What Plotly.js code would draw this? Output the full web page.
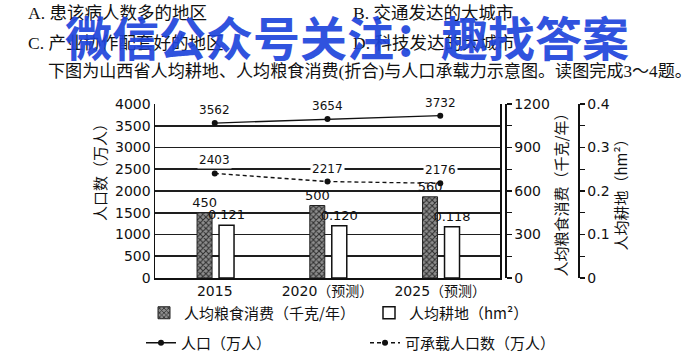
<!DOCTYPE html>
<html><head><meta charset="utf-8">
<script src="https://cdn.plot.ly/plotly-3.0.1.min.js"></script>
<style>html,body{margin:0;padding:0;background:#fff}</style>
</head><body><div id="chart" style="width:700px;height:364px"></div>
<script>
// ---- data ----
const categories = ['2015', '2020（预测）', '2025（预测）'];
const grainConsumption = [450, 500, 560];      // 人均粮食消费（千克/年）
const arableLand = [0.121, 0.120, 0.118];      // 人均耕地（hm²）
const population = [3562, 3654, 3732];         // 人口（万人）
const carryingCapacity = [2403, 2217, 2176];   // 可承载人口数（万人）
const leftTickVals = [0, 500, 1000, 1500, 2000, 2500, 3000, 3500, 4000];
const grainTickVals = [0, 300, 600, 900, 1200];
const landTickVals = [0, 0.1, 0.2, 0.3, 0.4];
const seriesNames = ['人均粮食消费（千克/年）', '人均耕地（hm²）', '人口（万人）', '可承载人口数（万人）'];
const leftAxisTitle = '人口数（万人）';
const questionLines = ['A. 患该病人数多的地区', 'B. 交通发达的大城市', 'C. 产业协作配套好的地区', 'D. 科技发达的大城市',
  '下图为山西省人均耕地、人均粮食消费(折合)与人口承载力示意图。读图完成3～4题。'];
const watermark = '微信公众号关注：趣找答案';

const FONT = 'DejaVu Sans, Noto Sans CJK SC, sans-serif';
const CJK = 'Noto Sans CJK SC, DejaVu Sans, sans-serif';
const SERIF = 'Liberation Serif, Noto Sans CJK SC, serif';

// paper coordinate helpers (plot: l=155, paper width 445; t=104, plot height 174)
const L = 155, PW = 445, B0 = 278, PH = 174;
const px = v => (v - L) / PW;
const py = v => (B0 - v) / PH;

const traces = [
  {
    type: 'bar', name: seriesNames[0], x: categories, y: grainConsumption, yaxis: 'y2',
    offset: -0.157, width: 0.133,
    marker: { color: '#6a6a6a', pattern: { shape: 'x', fgcolor: '#2e2e2e', bgcolor: '#8e8e8e', size: 4, solidity: 0.45 },
      line: { color: '#222', width: 1 } },
    text: grainConsumption.map(String), textposition: 'outside', cliponaxis: false, constraintext: 'none',
    textfont: { family: FONT, size: 13, color: '#111' }, legend: 'legend'
  },
  {
    type: 'bar', name: seriesNames[1], x: categories, y: arableLand, yaxis: 'y3',
    offset: 0.038, width: 0.133,
    marker: { color: '#ffffff', line: { color: '#111', width: 1.5 } },
    text: arableLand.map(v => v.toFixed(3)), textposition: 'outside', cliponaxis: false, constraintext: 'none',
    textfont: { family: FONT, size: 13, color: '#111' }, legend: 'legend'
  },
  {
    type: 'scatter', mode: 'lines+markers', name: seriesNames[2], x: categories, y: population, yaxis: 'y',
    line: { color: '#111', width: 1.3 }, marker: { color: '#111', size: 6 }, cliponaxis: false, legend: 'legend2'
  },
  {
    type: 'scatter', mode: 'lines+markers', name: seriesNames[3], x: categories, y: carryingCapacity, yaxis: 'y',
    line: { color: '#111', width: 1.3, dash: '4px,3px' }, marker: { color: '#111', size: 6 }, cliponaxis: false, legend: 'legend2'
  }
];

const annotations = [];
population.forEach((v, i) => annotations.push({
  x: i, y: v, xref: 'x', yref: 'y', text: String(v), showarrow: false, yshift: 13,
  bgcolor: '#fff', font: { family: FONT, size: 12, color: '#111' }
}));
carryingCapacity.forEach((v, i) => annotations.push({
  x: i, y: v, xref: 'x', yref: 'y', text: String(v), showarrow: false, yshift: 13,
  bgcolor: '#fff', font: { family: FONT, size: 12, color: '#111' }
}));
// left axis title (placed like the reference, above the axis centre)
annotations.push({
  x: px(99), y: py(169), xref: 'paper', yref: 'paper', xanchor: 'center', yanchor: 'middle',
  text: leftAxisTitle, textangle: -90, showarrow: false, font: { family: CJK, size: 15, color: '#111' }
});
// question text above the chart
const qPos = [[26, 13], [351, 13], [26, 43], [351, 43], [46, 71]];
questionLines.forEach((t, i) => annotations.push({
  x: px(qPos[i][0]), y: py(qPos[i][1]), xref: 'paper', yref: 'paper', xanchor: 'left', yanchor: 'middle',
  text: t, showarrow: false, font: { family: SERIF, size: i === 4 ? 17.1 : 17.5, color: '#111' }
}));
annotations.push({
  x: px(63), y: py(35), xref: 'paper', yref: 'paper', xanchor: 'left', yanchor: 'middle',
  text: '<b>' + watermark + '</b>', showarrow: false, opacity: 0.92,
  font: { family: CJK, size: 47, color: '#1f45dc' }
});

const axisTitleFont = { family: CJK, size: 15, color: '#111' };
const tickFont = { family: FONT, size: 14, color: '#111' };

const layout = {
  width: 700, height: 364,
  margin: { l: L, r: 700 - L - PW, t: 104, b: 364 - B0, autoexpand: false },
  paper_bgcolor: '#fff', plot_bgcolor: '#fff',
  showlegend: true,
  xaxis: {
    type: 'category', domain: [0, 345 / PW], range: [-0.53, 2.53],
    showline: true, linecolor: '#111', linewidth: 1.5, ticks: '', showgrid: false,
    tickfont: { family: FONT, size: 14, color: '#111' }
  },
  yaxis: {
    range: [0, 4000], tickvals: leftTickVals, showgrid: true, gridcolor: '#1e1e1e', gridwidth: 1.6,
    showline: true, linecolor: '#111', linewidth: 1.5, mirror: true, ticks: '', zeroline: false,
    tickfont: tickFont
  },
  yaxis2: {
    overlaying: 'y', side: 'right', anchor: 'free', position: px(505),
    range: [0, 1200], tickvals: grainTickVals, showgrid: false, zeroline: false,
    showline: true, linecolor: '#111', linewidth: 1.5, ticks: 'outside', ticklen: 5, tickwidth: 1.3, tickcolor: '#111',
    minor: { dtick: 150, ticks: 'outside', ticklen: 5, tickwidth: 1.3, tickcolor: '#111' },
    tickfont: tickFont, title: { text: '人均粮食消费（千克/年）', font: axisTitleFont, standoff: 6 }
  },
  yaxis3: {
    overlaying: 'y', side: 'right', anchor: 'free', position: px(578),
    range: [0, 0.4], tickvals: landTickVals, showgrid: false, zeroline: false,
    showline: true, linecolor: '#111', linewidth: 1.5, ticks: 'outside', ticklen: 5, tickwidth: 1.3, tickcolor: '#111',
    minor: { dtick: 0.05, ticks: 'outside', ticklen: 5, tickwidth: 1.3, tickcolor: '#111' },
    tickfont: tickFont, title: { text: '人均耕地（hm²）', font: axisTitleFont, standoff: 6 }
  },
  legend: {
    orientation: 'h', x: px(144), xanchor: 'left', y: py(313), yanchor: 'middle',
    entrywidth: 180, font: { family: CJK, size: 15, color: '#111' }, bgcolor: 'rgba(0,0,0,0)', itemwidth: 30
  },
  legend2: {
    orientation: 'h', x: px(141), xanchor: 'left', y: py(343), yanchor: 'middle',
    entrywidth: 179, font: { family: CJK, size: 15, color: '#111' }, bgcolor: 'rgba(0,0,0,0)', itemwidth: 30
  },
  annotations: annotations
};

Plotly.newPlot('chart', traces, layout, { displayModeBar: false, staticPlot: true });
</script></body></html>
